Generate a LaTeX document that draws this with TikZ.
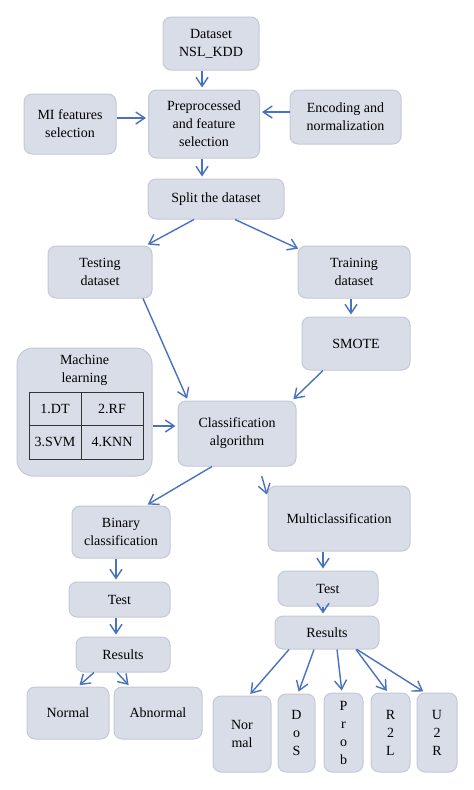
\documentclass[tikz,border=0pt]{standalone}
\usepackage{fontspec}
\setmainfont{Liberation Serif}
\usepackage{tikz}
\usetikzlibrary{arrows.meta}
\definecolor{boxfill}{HTML}{D9DDE7}
\definecolor{boxline}{HTML}{C4C9D7}
\definecolor{arblue}{HTML}{4872BE}
\begin{document}
\begin{tikzpicture}[x=1pt, y=-1pt, font={\fontsize{14}{18}\selectfont},
  main/.style={rectangle, rounded corners=8pt, draw=boxline, line width=1pt, fill=boxfill, align=center, inner sep=2pt, text=black},
  cell/.style={rectangle, draw=black!80, line width=0.9pt, inner sep=0pt, text=black},
  ar/.style={draw=arblue, line width=1.4pt, -{Straight Barb[length=9pt,width=12pt]}, shorten >=2pt}]
          \useasboundingbox (0,0) rectangle (474,790);
          \node[main, minimum width=96pt, minimum height=53pt] (1) at (211,43.5) {Dataset\\NSL\_KDD};
          \node[main, minimum width=111pt, minimum height=68pt] (2) at (204,124) {Preprocessed\\and feature\\selection};
          \node[main, minimum width=92pt, minimum height=60pt] (3) at (70,124) {MI features\\selection};
          \node[main, minimum width=111pt, minimum height=54pt] (4) at (345.5,117) {Encoding and\\normalization};
          \node[main, minimum width=136pt, minimum height=40pt] (5) at (216,199) {Split the dataset};
          \node[main, minimum width=104pt, minimum height=52pt] (6) at (100,272) {Testing\\dataset};
          \node[main, minimum width=112pt, minimum height=52pt] (7) at (354,272) {Training\\dataset};
          \node[main, minimum width=108pt, minimum height=53pt] (8) at (356,343.5) {SMOTE};
          \node[main, minimum width=135pt, minimum height=128pt, rounded corners=16pt] (9) at (84.5,412) {};
          \node[align=center] (9t) at (84.5,370) {Machine\\learning};
          \node[cell, minimum width=52pt, minimum height=33pt] (10) at (55,408.5) {1.DT};
          \node[cell, minimum width=62pt, minimum height=33pt] (11) at (112,408.5) {2.RF};
          \node[cell, minimum width=52pt, minimum height=34pt] (12) at (55,442) {3.SVM};
          \node[cell, minimum width=62pt, minimum height=34pt] (13) at (112,442) {4.KNN};
          \node[main, minimum width=118pt, minimum height=65pt] (14) at (237,433.5) {Classification\\algorithm};
          \node[main, minimum width=98pt, minimum height=52pt] (15) at (121,532) {Binary\\classification};
          \node[main, minimum width=142pt, minimum height=65pt] (16) at (339,518.5) {Multiclassification};
          \node[main, minimum width=101pt, minimum height=35pt] (17) at (119.5,599.5) {Test};
          \node[main, minimum width=94pt, minimum height=35pt] (18) at (123,654.5) {Results};
          \node[main, minimum width=82pt, minimum height=52pt] (19) at (68,713) {Normal};
          \node[main, minimum width=88pt, minimum height=52pt] (20) at (158,713) {Abnormal};
          \node[main, minimum width=100pt, minimum height=35pt] (21) at (328,588.5) {Test};
          \node[main, minimum width=104pt, minimum height=33pt] (22) at (327,632.5) {Results};
          \node[main, minimum width=58pt, minimum height=76pt] (23) at (242,734) {Nor\\mal};
          \node[main, minimum width=37pt, minimum height=78pt, inner sep=1pt] (24) at (296.5,733) {D\\o\\S};
          \node[main, minimum width=39pt, minimum height=79pt, inner sep=1pt] (25) at (343.5,732.5) {P\\r\\o\\b};
          \node[main, minimum width=39pt, minimum height=79pt, inner sep=1pt] (26) at (390.5,732.5) {R\\2\\L};
          \node[main, minimum width=40pt, minimum height=79pt, inner sep=1pt] (27) at (437,732.5) {U\\2\\R};

          \draw[ar] ([xshift=-9pt]1.south) -- ([xshift=-2pt]2.north);
          \draw[ar] ([xshift=-2pt]2.south) -- ([xshift=-14pt]5.north);
          \draw[ar] ([yshift=6pt]3.east) -- ([yshift=6pt]2.west);
          \draw[ar] ([yshift=5pt]4.west) -- ([yshift=12pt]2.east);
          \draw[ar] ([xshift=-22pt]5.south) -- ([xshift=46pt]6.north);
          \draw[ar] ([xshift=19pt]5.south) -- ([xshift=-54pt, yshift=-4pt]7.north);
          \draw[ar] ([xshift=43pt]6.south) -- ([xshift=-49pt]14.north);
          \draw[ar] ([xshift=-3pt]7.south) -- ([xshift=-5pt]8.north);
          \draw[ar] ([xshift=-33pt]8.south) -- ([xshift=55pt]14.north);
          \draw[ar] ([yshift=-14pt]9.east) -- ([yshift=7.5pt]14.west);
          \draw[ar] ([xshift=-25pt]14.south) -- ([xshift=25pt]15.north);
          \draw[ar, shorten <=10pt] ([xshift=22pt]14.south) -- ([yshift=-11pt]16.north west);
          \draw[ar] ([xshift=-5pt]15.south) -- ([xshift=-3.5pt]17.north);
          \draw[ar] ([xshift=-3.5pt]17.south) -- ([xshift=-7pt]18.north);
          \draw[ar] ([xshift=-29pt]18.south) -- ([xshift=10pt]19.north);
          \draw[ar] ([xshift=-6pt]18.south) -- ([xshift=-28pt]20.north);
          \draw[ar] ([xshift=-16pt]16.south) -- ([xshift=-5pt]21.north);
          \draw[ar] ([xshift=-5pt]21.south) -- ([xshift=-4pt]22.north);
          \draw[ar] ([xshift=-38pt]22.south) -- ([xshift=7pt]23.north);
          \draw[ar] ([xshift=-13pt]22.south) -- ([xshift=1.5pt]24.north);
          \draw[ar] ([xshift=10pt]22.south) -- ([xshift=-1.5pt]25.north);
          \draw[ar] ([xshift=29pt]22.south) -- ([xshift=-2.5pt]26.north);
          \draw[ar] ([xshift=30pt]22.south) -- ([xshift=-12pt]27.north);
        \end{tikzpicture}
\end{document}
